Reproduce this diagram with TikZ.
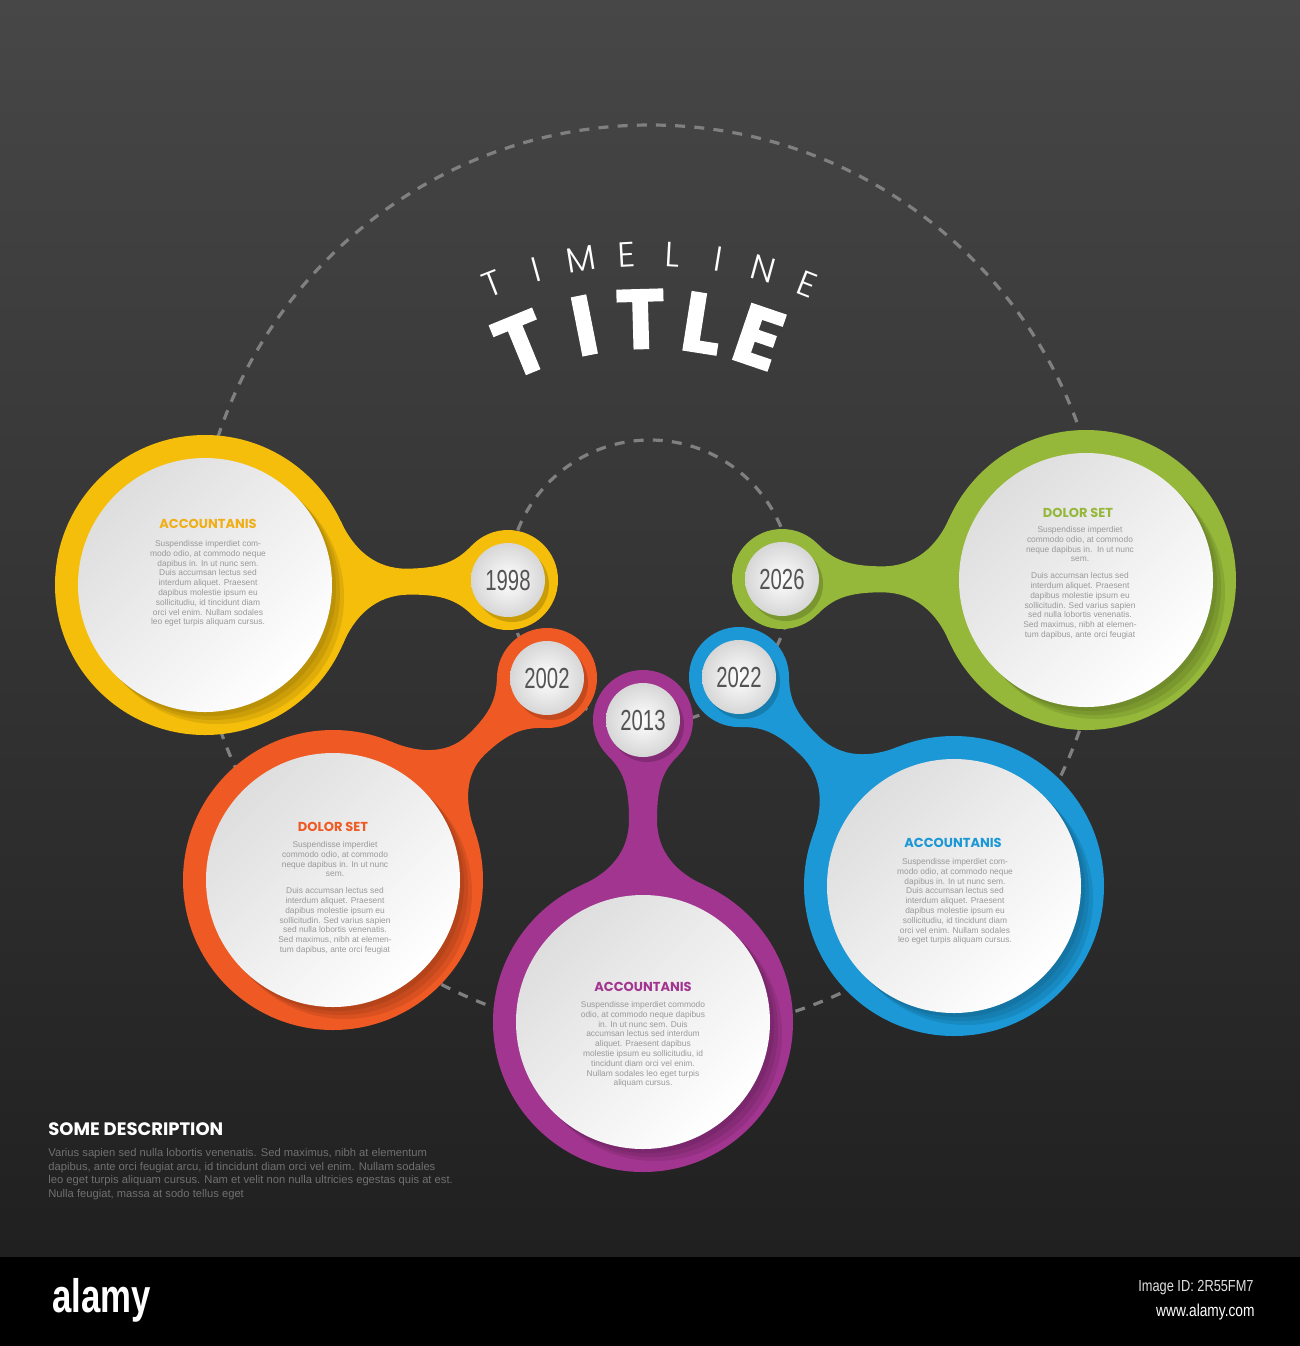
\documentclass[tikz,border=0pt]{standalone}
\usepackage{fontspec}
\setmainfont{Liberation Sans}
\newfontfamily\hfont{Poppins}
\newfontfamily\heavyfont{Poppins Bold}[FakeBold=1.6]
\newfontfamily\thinfont{Poppins Light}
\newfontfamily\yearfont{Liberation Sans}[FakeStretch=0.7]
\newfontfamily\logofont{Liberation Sans}[FakeStretch=0.74]
\newfontfamily\idfont{Liberation Sans}[FakeStretch=0.8]
\definecolor{cyel}{HTML}{F5BE0B}
\definecolor{cora}{HTML}{EF5A24}
\definecolor{cpur}{HTML}{A2358F}
\definecolor{cblu}{HTML}{1B98D5}
\definecolor{cgre}{HTML}{95B83A}
\definecolor{tyel}{HTML}{F0AE17}
\definecolor{bgtop}{HTML}{474747}
\definecolor{bgbot}{HTML}{202020}
\definecolor{dashgray}{HTML}{808080}
\newcommand\mball[9]{%
 \pgfmathsetmacro\mbd{veclen(#3-#1,#4-#2)}%
 \pgfmathsetmacro\mbang{atan2(-(#4-#2),#3-#1)}%
 \pgfmathsetmacro\pax{150*cos(#5)}%
 \pgfmathsetmacro\pay{150*sin(#5)}%
 \pgfmathsetmacro\npay{0-\pay}%
 \pgfmathsetmacro\pbx{\mbd-50*cos(#6)}%
 \pgfmathsetmacro\pby{50*sin(#6)}%
 \pgfmathsetmacro\npby{0-\pby}%
 \pgfmathsetmacro\ka{0.45*(#7-\pax)}%
 \pgfmathsetmacro\kb{0.55*(\pbx-#7)}%
 \pgfmathsetmacro\cax{\pax+\ka*sin(#5)}%
 \pgfmathsetmacro\cay{\pay-\ka*cos(#5)}%
 \pgfmathsetmacro\ncay{0-\cay}%
 \pgfmathsetmacro\cbx{#7-0.5*(#7-\pax)}%
 \pgfmathsetmacro\ccx{#7+\kb}%
 \pgfmathsetmacro\cdx{\pbx-0.6*\kb*sin(#6)}%
 \pgfmathsetmacro\cdy{\pby-0.6*\kb*cos(#6)}%
 \pgfmathsetmacro\ncdy{0-\cdy}%
 \pgfmathsetmacro\nw{0-#8}%
 \begin{scope}[shift={(#1,#2)},rotate=\mbang]
  \fill[#9] (0,0) -- (\pax,\pay) .. controls (\cax,\cay) and (\cbx,#8) .. (#7,#8)
     .. controls (\ccx,#8) and (\cdx,\cdy) .. (\pbx,\pby) -- (\mbd,0) -- (\pbx,\npby)
     .. controls (\cdx,\ncdy) and (\ccx,\nw) .. (#7,\nw)
     .. controls (\cbx,\nw) and (\cax,\ncay) .. (\pax,\npay) -- cycle;
 \end{scope}
 \fill[#9] (#1,#2) circle[radius=150];
 \fill[#9] (#3,#4) circle[radius=50];
}
\newcommand\bigdisc[3]{%
 \fill[#3!65!black, opacity=0.25] (#1+12,#2+12) circle[radius=127];
 \fill[#3!65!black, opacity=0.3] (#1+8,#2+8) circle[radius=127];
 \fill[#3!65!black, opacity=0.35] (#1+4,#2+4) circle[radius=127];
 \shade[top color=black!13, middle color=white, bottom color=white, shading angle=45] (#1,#2) circle[radius=127];
}
\newcommand\yeardisc[5]{%
 \fill[#3!65!black, opacity=0.5] (#1+4,#2+5) circle[radius=37];
 \shade[inner color=white, outer color=black!16] (#1,#2) circle[radius=37];
 \node[yeartxt] (#5) at (#1,#2+1) {#4};
}
\begin{document}
\begin{tikzpicture}[x=0.5pt,y=-0.5pt,
  dashc/.style={draw=dashgray, line width=1.6pt, dash pattern=on 5pt off 4.6pt},
  bodytxt/.style={font=\fontsize{4.2}{4.9}\selectfont, text=black!40, align=center, inner sep=0pt, anchor=north},
  headtxt/.style={font=\hfont\bfseries\fontsize{6.5}{7}\selectfont, inner sep=0pt},
  yeartxt/.style={font=\yearfont\fontsize{14.5}{15}\selectfont, text=black!67, inner sep=0pt},
  tlchar/.style={font=\thinfont\fontsize{17.5}{17.5}\selectfont, text=white, inner sep=0pt},
  ttchar/.style={font=\heavyfont\fontsize{42}{42}\selectfont, text=white, inner sep=0pt}]
\useasboundingbox (0,0) rectangle (1300,1346);
\shade[top color=bgtop, bottom color=bgbot] (0,0) rectangle (1300,1257);
\fill[black] (0,1257) rectangle (1300,1346);
% dashed circles
\draw[dashc] (650,580) circle[radius=455];
\draw[dashc] (650,582) circle[radius=142];
% title
\foreach \ch [count=\i from 0] in {T,I,M,E,L,I,N,E}{
  \pgfmathsetmacro\th{-21.5+6.14*\i}
  \node[tlchar, rotate=-\th] (tl\i) at ({650+430*sin(\th)},{684-430*cos(\th)}) {\ch};
}
\foreach \ch/\th [count=\i] in {T/-22.3,I/-11.2,T/-1.6,L/8.9,E/18.8}{
  \node[ttchar, rotate=-\th] (tt\i) at ({650+338*sin(\th)},{657-338*cos(\th)}) {\ch};
}
% metaball shapes
\mball{205}{585}{508}{580}{24}{45}{203}{13}{cyel}
\mball{333}{880}{547}{678}{24}{45}{197}{13}{cora}
\mball{643}{1022}{643}{720}{24}{45}{202}{14}{cpur}
\mball{954}{886}{739}{677}{24}{45}{201}{13}{cblu}
\mball{1086}{580}{782}{579}{24}{45}{204}{13}{cgre}
% white discs
\bigdisc{205}{585}{cyel}
\bigdisc{333}{880}{cora}
\bigdisc{643}{1022}{cpur}
\bigdisc{954}{886}{cblu}
\bigdisc{1086}{580}{cgre}
\yeardisc{508}{580}{cyel}{1998}{y1998}
\yeardisc{547}{678}{cora}{2002}{y2002}
\yeardisc{643}{720}{cpur}{2013}{y2013}
\yeardisc{739}{677}{cblu}{2022}{y2022}
\yeardisc{782}{579}{cgre}{2026}{y2026}
% texts
\node[headtxt, text=tyel] (h1) at (208,524) {ACCOUNTANIS};
\node[bodytxt] (b1) at (208,540) {Suspendisse imperdiet com-\\modo odio, at commodo neque\\dapibus in. In ut nunc sem.\\Duis accumsan lectus sed\\interdum aliquet. Praesent\\dapibus molestie ipsum eu\\sollicitudiu, id tincidunt diam\\orci vel enim. Nullam sodales\\leo eget turpis aliquam cursus.};
\node[headtxt, text=cgre] (h5) at (1078,513) {DOLOR SET};
\node[bodytxt] (b5) at (1080,526) {Suspendisse imperdiet\\commodo odio, at commodo\\neque dapibus in.\ \ In ut nunc\\sem.\\[3.5pt]Duis accumsan lectus sed\\interdum aliquet. Praesent\\dapibus molestie ipsum eu\\sollicitudin. Sed varius sapien\\sed nulla lobortis venenatis.\\Sed maximus, nibh at elemen-\\tum dapibus, ante orci feugiat};
\node[headtxt, text=cora] (h2) at (333,827) {DOLOR SET};
\node[bodytxt] (b2) at (335,841) {Suspendisse imperdiet\\commodo odio, at commodo\\neque dapibus in. In ut nunc\\sem.\\[3.5pt]Duis accumsan lectus sed\\interdum aliquet. Praesent\\dapibus molestie ipsum eu\\sollicitudin. Sed varius sapien\\sed nulla lobortis venenatis.\\Sed maximus, nibh at elemen-\\tum dapibus, ante orci feugiat};
\node[headtxt, text=cblu] (h4) at (953,843) {ACCOUNTANIS};
\node[bodytxt] (b4) at (955,858) {Suspendisse imperdiet com-\\modo odio, at commodo neque\\dapibus in. In ut nunc sem.\\Duis accumsan lectus sed\\interdum aliquet. Praesent\\dapibus molestie ipsum eu\\sollicitudiu, id tincidunt diam\\orci vel enim. Nullam sodales\\leo eget turpis aliquam cursus.};
\node[headtxt, text=cpur] (h3) at (643,987) {ACCOUNTANIS};
\node[bodytxt] (b3) at (643,1001) {Suspendisse imperdiet commodo\\odio, at commodo neque dapibus\\in. In ut nunc sem. Duis\\accumsan lectus sed interdum\\aliquet. Praesent dapibus\\molestie ipsum eu sollicitudiu, id\\tincidunt diam orci vel enim.\\Nullam sodales leo eget turpis\\aliquam cursus.};
% description
\node[font=\hfont\bfseries\fontsize{9}{10}\selectfont, text=white, inner sep=0pt, anchor=west] (dh) at (48,1129) {SOME DESCRIPTION};
\node[font=\fontsize{5.6}{6.85}\selectfont, text=black!56, align=left, inner sep=0pt, anchor=north west] (db) at (48,1148) {Varius sapien sed nulla lobortis venenatis. Sed maximus, nibh at elementum\\dapibus, ante orci feugiat arcu, id tincidunt diam orci vel enim. Nullam sodales\\leo eget turpis aliquam cursus. Nam et velit non nulla ultricies egestas quis at est.\\Nulla feugiat, massa at sodo tellus eget};
% bottom bar
\node[font=\logofont\bfseries\fontsize{23.5}{24}\selectfont, text=white, inner sep=0pt, anchor=west] (logo) at (52,1300) {alamy};
\node[font=\idfont\fontsize{8}{9}\selectfont, text=black!12, inner sep=0pt, anchor=east] (imgid) at (1254,1288) {Image ID: 2R55FM7};
\node[font=\idfont\fontsize{8.6}{9}\selectfont, text=white, inner sep=0pt, anchor=east] (www) at (1255,1312) {www.alamy.com};
\end{tikzpicture}
\end{document}
